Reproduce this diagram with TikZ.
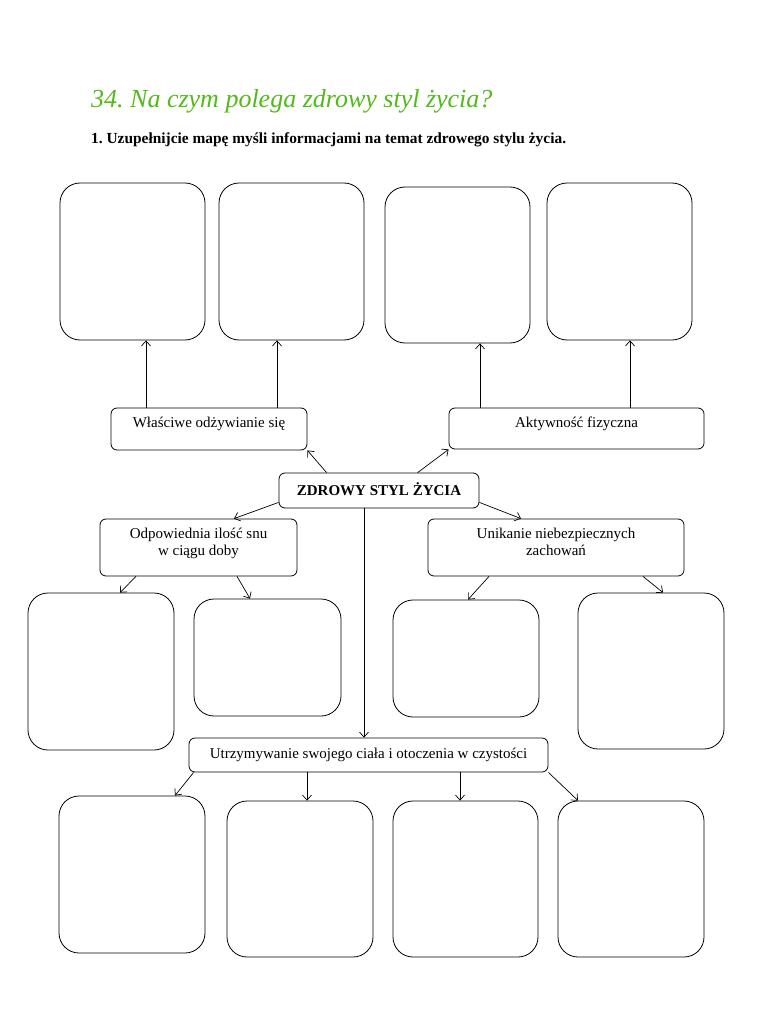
\documentclass[tikz,border=0pt]{standalone}
\usepackage{fontspec}
\setmainfont{Liberation Serif}
\usetikzlibrary{arrows.meta}
\definecolor{titlegreen}{RGB}{82,186,26}
\frenchspacing

\begin{document}
\begin{tikzpicture}[x=1pt, y=-1pt,
        card/.style = {draw, rounded corners=20pt, line width=0.8pt, minimum width=146pt, minimum height=157pt, inner sep=0pt},
        topic/.style = {draw, rounded corners=6pt, line width=0.8pt, inner sep=0pt, align=center, font=\fontsize{15}{17}\selectfont},
        link/.style = {line width=0.7pt, -{Straight Barb[length=5pt, width=9pt]}}]
        \useasboundingbox (0,0) rectangle (768,1024);

        \node[anchor=base west, inner sep=0pt, text=titlegreen, font=\fontsize{26}{30}\selectfont\itshape] at (91,108) (title) {34. Na czym polega zdrowy styl życia?};
        \node[anchor=base west, inner sep=0pt, font=\fontsize{15.4}{17}\selectfont\bfseries] at (91,144) (task) {1. Uzupełnijcie mapę myśli informacjami na temat zdrowego stylu życia.};

        % puste pola
        \node[card, minimum width=145pt] at (132.5, 261.5) (t1) {};
        \node[card, minimum width=145pt] at (291.5, 261.5) (t2) {};
        \node[card, minimum width=145pt, minimum height=156pt] at (457.5, 265) (t3) {};
        \node[card, minimum width=145pt] at (619.5, 261.5) (t4) {};
        \node[card] at (101, 671.5) (m1) {};
        \node[card, minimum width=147pt, minimum height=117pt] at (267.5, 657.5) (m2) {};
        \node[card, minimum height=117pt] at (466, 658.5) (m3) {};
        \node[card, minimum height=156pt] at (651, 671) (m4) {};
        \node[card] at (132, 874.5) (l1) {};
        \node[card, minimum height=156pt] at (300, 879) (l2) {};
        \node[card, minimum width=145pt, minimum height=156pt] at (465.5, 879) (l3) {};
        \node[card, minimum height=156pt] at (631, 879) (l4) {};

        % hasla
        \node[topic, font=\fontsize{15}{17}\selectfont\bfseries, minimum width=200pt, text height=22pt, text depth=13pt] at (379, 490.5) (zd) {ZDROWY STYL ŻYCIA};
        \node[topic, minimum width=196pt, text height=19pt, text depth=23pt] at (209, 429) (wl) {Właściwe odżywianie się};
        \node[topic, minimum width=255pt, text height=19pt, text depth=22pt] at (576.5, 428.5) (ak) {Aktywność fizyczna};
        \node[topic, minimum width=197pt, text height=36pt, text depth=21pt] at (198.5, 547.5) (od) {Odpowiednia ilość snu\\w ciągu doby};
        \node[topic, minimum width=256pt, text height=36pt, text depth=21pt] at (556, 547.5) (un) {Unikanie niebezpiecznych\\zachowań};
        \node[topic, minimum width=359pt, text height=20pt, text depth=14pt] at (368.5, 755) (ut) {Utrzymywanie swojego ciała i otoczenia w czystości};

        \draw [link] ([xshift=48pt]zd.north west) -- (wl.south east);
        \draw [link] ([xshift=139pt]zd.north west) -- (ak.south west);
        \draw [link] ([yshift=6pt]zd.south west) -- ([xshift=35.5pt]od.north);
        \draw [link] ([yshift=6pt]zd.south east) -- ([xshift=-35pt]un.north);
        \draw [link] ([xshift=-15pt]zd.south) -- ([xshift=-4.5pt]ut.north);

        \draw [link] ([xshift=-63pt]wl.north) -- ([xshift=13.5pt]t1.south);
        \draw [link] ([xshift=68pt]wl.north) -- ([xshift=-14.5pt]t2.south);
        \draw [link] ([xshift=-96.5pt]ak.north) -- ([xshift=22.5pt]t3.south);
        \draw [link] ([xshift=53.5pt]ak.north) -- ([xshift=10.5pt]t4.south);

        \draw [link] ([xshift=-62.5pt]od.south) -- ([xshift=19pt]m1.north);
        \draw [link] ([xshift=38.5pt]od.south) -- ([xshift=-17.5pt]m2.north);
        \draw [link] ([xshift=-67pt]un.south) -- ([xshift=2pt]m3.north);
        \draw [link] ([xshift=87pt]un.south) -- ([xshift=12pt]m4.north);

        \draw [link] ([xshift=5pt]ut.south west) -- ([xshift=43pt]l1.north);
        \draw [link] ([xshift=-61.5pt]ut.south) -- ([xshift=7pt]l2.north);
        \draw [link] ([xshift=91.5pt]ut.south) -- ([xshift=-5.5pt]l3.north);
        \draw [link] (ut.south east) -- ([xshift=-53pt]l4.north);
\end{tikzpicture}
\end{document}
